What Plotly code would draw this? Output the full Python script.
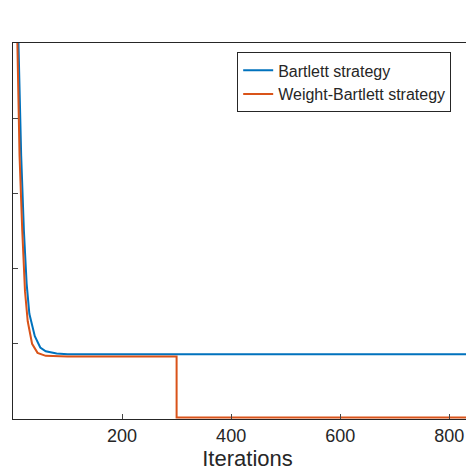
import plotly.graph_objects as go

# values
bartlett_iter = [10, 15, 20, 25, 30, 40, 50, 60, 80, 100, 1000]
bartlett_val = [5.0, 3.5, 2.5, 1.8, 1.4, 1.1, 0.95, 0.9, 0.87, 0.86, 0.86]
weight_iter = [8, 12, 17, 22, 27, 35, 45, 60, 100, 300, 300, 1000]
weight_val = [5.0, 3.5, 2.5, 1.7, 1.3, 1.0, 0.88, 0.84, 0.83, 0.83, 0.02, 0.02]
x_ticks = [0, 200, 400, 600, 800, 1000]

fig = go.Figure()
fig.add_trace(go.Scatter(x=bartlett_iter, y=bartlett_val, mode="lines",
                         name="Bartlett strategy", line=dict(color="#0072BD", width=2)))
fig.add_trace(go.Scatter(x=weight_iter, y=weight_val, mode="lines",
                         name="Weight-Bartlett strategy", line=dict(color="#D95319", width=2)))

fig.update_layout(
    width=474, height=474,
    margin=dict(l=5, r=0, t=35, b=63, autoexpand=False),
    plot_bgcolor="white", paper_bgcolor="white",
    font=dict(family="Liberation Sans, Arial", size=18, color="#262626"),
    showlegend=True,
    legend=dict(x=0.478, y=0.975, xanchor="left", yanchor="top",
                bgcolor="white", bordercolor="#262626", borderwidth=1,
                font=dict(size=16), tracegroupgap=0),
)
fig.update_xaxes(range=[0, 860], tickvals=x_ticks, ticks="inside", ticklen=5,
                 automargin=False,
                 showline=True, linecolor="#262626", mirror=True, showgrid=False,
                 zeroline=False, title=dict(text="Iterations", standoff=4))
fig.update_yaxes(range=[0, 5], dtick=1, ticks="inside", ticklen=5, automargin=False,
                 showticklabels=False, showline=True, linecolor="#262626",
                 mirror=True, showgrid=False, zeroline=False)

fig.write_html("out.html")
